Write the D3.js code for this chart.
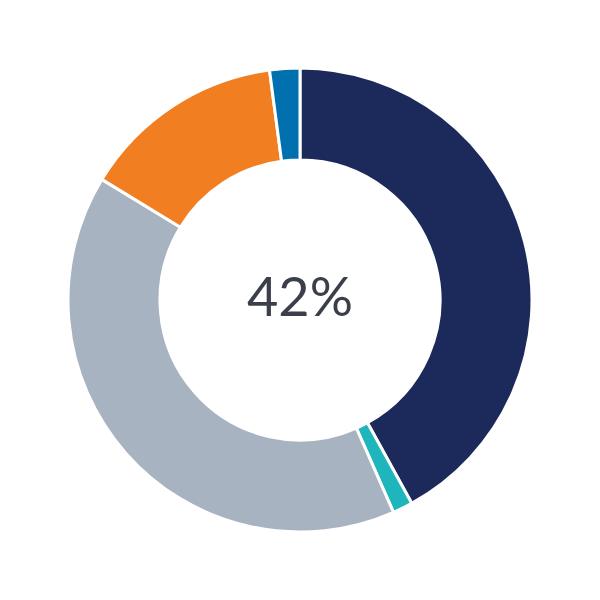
<!DOCTYPE html>
<html>
<head>
<meta charset="utf-8">
<script src="https://cdn.jsdelivr.net/npm/d3@7"></script>
<style>
  body { margin: 0; background: #fff; }
</style>
</head>
<body>
<div id="donut"></div>
<script>
var categories = ["A", "B", "C", "D", "E"];
var values = [42, 1.4, 40.3, 14.2, 2.1];
var colors = ["#1b2a5a", "#1fb5bd", "#a8b3c1", "#f27e22", "#0071ae"];
var centerLabel = "42%";

var width = 600, height = 600;
var outerR = 232, innerR = 140;

var colorScale = d3.scaleOrdinal()
    .domain(categories)
    .range(colors);

var svg = d3.select("#donut").append("svg")
    .attr("width", width)
    .attr("height", height);

var g = svg.append("g")
    .attr("transform", `translate(${width / 2}, ${height / 2})`);

var data = categories.map((c, i) => ({ cat: c, value: values[i] }));

var pie = d3.pie()
    .value(d => d.value)
    .sort(null);

var arc = d3.arc()
    .innerRadius(innerR)
    .outerRadius(outerR);

g.selectAll(".slice")
    .data(pie(data))
    .enter()
    .append("path")
    .attr("class", "slice")
    .attr("d", arc)
    .attr("fill", d => colorScale(d.data.cat))
    .attr("stroke", "white")
    .style("stroke-width", "3px");

g.append("text")
    .attr("text-anchor", "middle")
    .attr("dy", "0.35em")
    .attr("y", -3)
    .style("font-family", "Lato, 'Open Sans', sans-serif")
    .style("font-weight", 400)
    .style("font-size", "54px")
    .style("fill", "#3a3f4a")
    .text(centerLabel);
</script>
</body>
</html>
